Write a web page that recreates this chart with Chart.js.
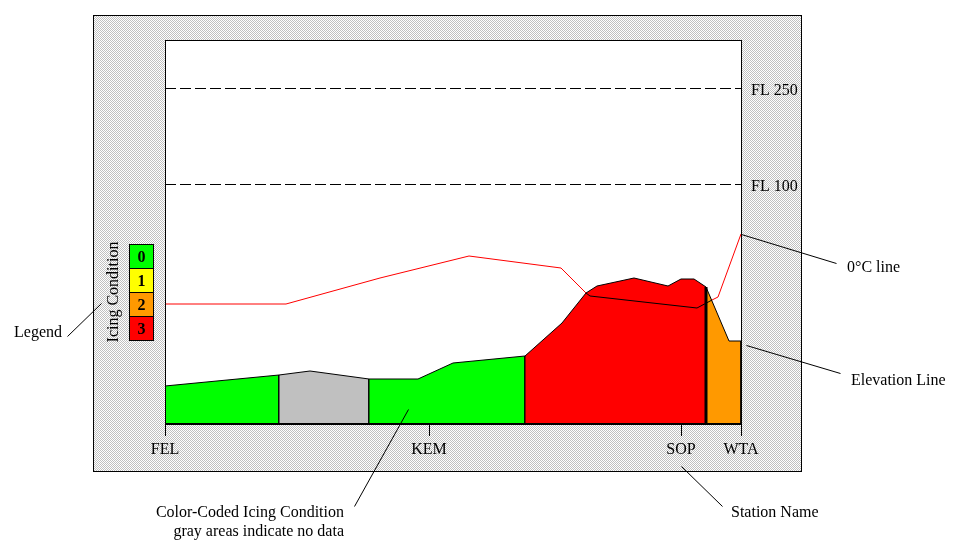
<!DOCTYPE html>
<html><head><meta charset="utf-8">
<style>html,body{margin:0;padding:0;background:#fff}canvas{display:block}</style>
<script src="https://cdn.jsdelivr.net/npm/chart.js@4"></script>
</head><body><div style="width:960px;height:548px"><canvas id="c" width="960" height="548"></canvas></div>
<script>
// Plot units: horizontal distance 0-576, vertical height 0-384
const stationNames = ['FEL','KEM','SOP','WTA'];
const stationX = [0,264,516,576];
const levelNames = ['FL 100','FL 250'];
const levelY = [240,336];
const legendLabels = ['0','1','2','3'];
const legendColors = ['#00ff00','#ffff00','#ff9900','#ff0000'];
const green1 = [[0,0],[0,38],[114,49],[114,0]];
const gray1 = [[114,0],[114,49],[145,53],[204,45],[204,0]];
const green2 = [[204,0],[204,45],[253,45],[288,61],[360,68],[360,0]];
const red1 = [[360,0],[360,68],[397,101],[421,131],[432,138],[469,146],[503,138],[516,145],[529,145],[541,137],[541,0]];
const orange1 = [[541,0],[541,137],[564,83],[576,83],[576,0]];
const freezing = [[0,120],[121,120],[215,146],[304,168],[396,156],[421,131],[425,128],[532,116],[547,124],[553,127],[576,190]];
const divider = [[541,0],[541,137]];

const toPts = a => a.map(p => ({x:p[0],y:p[1]}));
const area = (d,color,o) => ({type:'line',order:o,data:toPts(d),backgroundColor:color,borderColor:'#000',borderWidth:1,fill:'origin',pointRadius:0,tension:0});

const panel = document.createElement('canvas');
panel.width = panel.height = 2;
const pc = panel.getContext('2d');
pc.fillStyle='#fff';pc.fillRect(0,0,2,2);
pc.fillStyle='#c0c0c0';pc.fillRect(0,0,1,1);pc.fillRect(1,1,1,1);

const FONT = '16px "Liberation Serif"';
function txt(ctx,s,x,y,align){ctx.textAlign=align||'left';ctx.textBaseline='middle';ctx.fillText(s,x,y);}
function seg(ctx,a,b,c,d){ctx.beginPath();ctx.moveTo(a+.5,b+.5);ctx.lineTo(c+.5,d+.5);ctx.stroke();}

const frame = {
  id:'frame',
  beforeDraw(ch){
    const x=ch.ctx, a=ch.chartArea;
    x.save();
    x.fillStyle='#fff';x.fillRect(0,0,960,548);
    x.fillStyle=x.createPattern(panel,'repeat');x.fillRect(93,15,708,456);
    x.strokeStyle='#000';x.lineWidth=1;x.strokeRect(93.5,15.5,708,456);
    x.fillStyle='#fff';x.fillRect(a.left,a.top,a.width,a.height);
    x.restore();
  },
  afterDraw(ch){
    const x=ch.ctx, a=ch.chartArea;
    x.save();
    x.strokeStyle='#000';x.lineWidth=1;
    x.strokeRect(a.left+.5,a.top+.5,a.width,a.height);
    x.lineWidth=2;x.beginPath();x.moveTo(a.left,a.bottom);x.lineTo(a.right,a.bottom);x.stroke();
    x.lineWidth=1;
    legendLabels.forEach((l,i)=>{
      const top=244+i*24;
      x.fillStyle=legendColors[i];x.fillRect(130,top,23,24);
      x.strokeRect(129.5,top+.5,24,24);
      x.fillStyle='#000';x.font='bold 16px "Liberation Serif"';txt(x,l,141.5,top+14,'center');
    });
    x.fillStyle='#000';x.font=FONT;
    x.save();x.translate(114,292);x.rotate(-Math.PI/2);txt(x,'Icing Condition',0,0,'center');x.restore();
    txt(x,'Legend',14,333);
    seg(x,67,336,101,303);
    txt(x,'0°C line',847,268);
    seg(x,741,234,836,263);
    txt(x,'Elevation Line',851,381);
    seg(x,746,345,840,373);
    txt(x,'Station Name',731,513);
    seg(x,681,466,722,506);
    txt(x,'Color-Coded Icing Condition',344,513,'right');
    txt(x,'gray areas indicate no data',344,532,'right');
    seg(x,354,506,408,409);
    x.restore();
  }
};

new Chart(document.getElementById('c'),{
  type:'line',
  data:{datasets:[
    area(green1,legendColors[0],5),
    area(gray1,'#c0c0c0',4),
    area(green2,legendColors[0],3),
    area(red1,legendColors[3],2),
    area(orange1,legendColors[2],2),
    {type:'line',order:1,data:toPts(divider),borderColor:'#000',borderWidth:3,pointRadius:0,fill:false},
    {type:'line',order:0,data:toPts(freezing),borderWidth:1,borderColor:'#ff0000',pointRadius:0,fill:false,tension:0,
     segment:{borderColor:c=>(c.p0DataIndex>=5&&c.p0DataIndex<8)?'#000':'#ff0000'}}
  ]},
  plugins:[frame],
  options:{
    responsive:false,animation:false,devicePixelRatio:1,
    layout:{padding:{left:165,top:40,right:0,bottom:0}},
    plugins:{legend:{display:false},tooltip:{enabled:false},title:{display:false}},
    elements:{line:{capBezierPoints:false,borderJoinStyle:'miter'}},
    scales:{
      x:{type:'linear',min:0,max:576,
        afterFit(s){s.height=124;},
        afterBuildTicks(s){s.ticks=stationX.map(v=>({value:v}));},
        border:{display:false},
        grid:{drawOnChartArea:false,drawTicks:true,tickLength:12,color:'#000',lineWidth:1},
        ticks:{autoSkip:false,maxRotation:0,padding:4,color:'#000',font:{family:'Liberation Serif',size:16},
          callback:v=>stationNames[stationX.indexOf(v)]}},
      y:{type:'linear',position:'right',min:0,max:384,
        afterFit(s){s.width=219;},
        afterBuildTicks(s){s.ticks=levelY.map(v=>({value:v}));},
        border:{display:false,dash:[11,4]},
        grid:{drawTicks:false,color:'#000',lineWidth:1},
        ticks:{autoSkip:false,padding:10,labelOffset:3,color:'#000',font:{family:'Liberation Serif',size:16},
          callback:v=>levelNames[levelY.indexOf(v)]}}
    }
  }
});
</script></body></html>
